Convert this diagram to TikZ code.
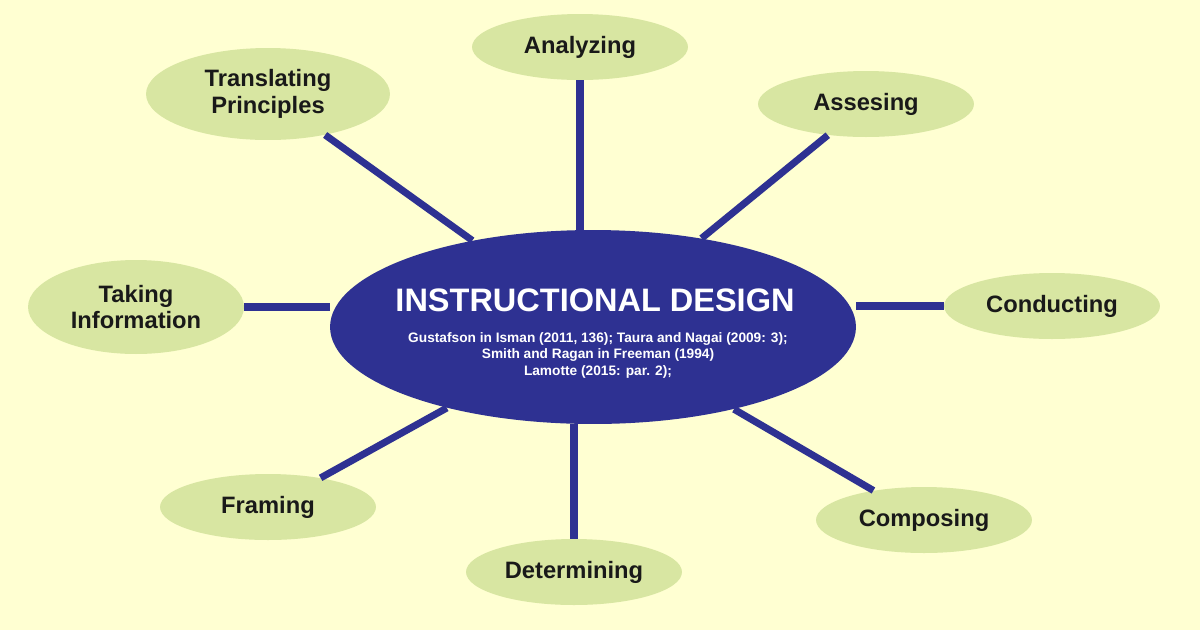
\documentclass[tikz,border=0pt]{standalone}
\usepackage{fontspec}
\setmainfont{Liberation Sans}
\usetikzlibrary{shapes.geometric}
\definecolor{bgy}{HTML}{FFFFD2}
\definecolor{leaf}{HTML}{D8E6A2}
\definecolor{navy}{HTML}{2E3192}
\begin{document}
\begin{tikzpicture}[x=0.02cm,y=-0.02cm,
  leafnode/.style={ellipse,fill=leaf,inner sep=0pt,minimum width=216\pgfkeysvalueof{/tikz/x},align=center,font=\bfseries\fontsize{13.5}{15}\selectfont,text=black!90},
  link/.style={draw=navy,line width=4pt}]
\fill[bgy] (0,0) rectangle (1200,630);
\useasboundingbox (0,0) rectangle (1200,630);
\node[ellipse,fill=navy,minimum width=10.52cm,minimum height=3.88cm,inner sep=0pt] (c) at (593,327) {};
\node[text=white,font=\bfseries\fontsize{18.5}{20}\selectfont] (t) at (595,300) {INSTRUCTIONAL DESIGN};
\node[text=white,font=\bfseries\fontsize{7.8}{9.4}\selectfont,align=center] (s) at (598,355) {Gustafson in Isman (2011, 136); Taura and Nagai (2009: 3);\\Smith and Ragan in Freeman (1994)\\Lamotte (2015: par. 2);};
\node[leafnode,minimum width=4.32cm,minimum height=1.32cm] (a) at (580,47) {Analyzing};
\node[leafnode,minimum width=4.32cm,minimum height=1.32cm] (b) at (866,104) {Assesing};
\node[leafnode,minimum width=4.32cm,minimum height=1.32cm] (d) at (1052,306) {Conducting};
\node[leafnode,minimum width=4.32cm,minimum height=1.32cm] (e) at (924,520) {Composing};
\node[leafnode,minimum width=4.32cm,minimum height=1.32cm] (f) at (574,572) {Determining};
\node[leafnode,minimum width=4.32cm,minimum height=1.32cm] (g) at (268,507) {Framing};
\node[leafnode,minimum width=4.32cm,minimum height=1.88cm] (h) at (136,307) {Taking\\Information};
\node[leafnode,minimum width=4.88cm,minimum height=1.84cm] (i) at (268,94) {Translating\\Principles};
\draw[link] (a.south) -- (c.north -| a.south);
\draw[link] (b) -- (c);
\draw[link] (d.west) -- (c.east |- d.west);
\draw[link] (e) -- (c);
\draw[link] (f.north) -- (c.south -| f.north);
\draw[link] (g) -- (c);
\draw[link] (h.east) -- (c.west |- h.east);
\draw[link] (i) -- (c);
\end{tikzpicture}
\end{document}
